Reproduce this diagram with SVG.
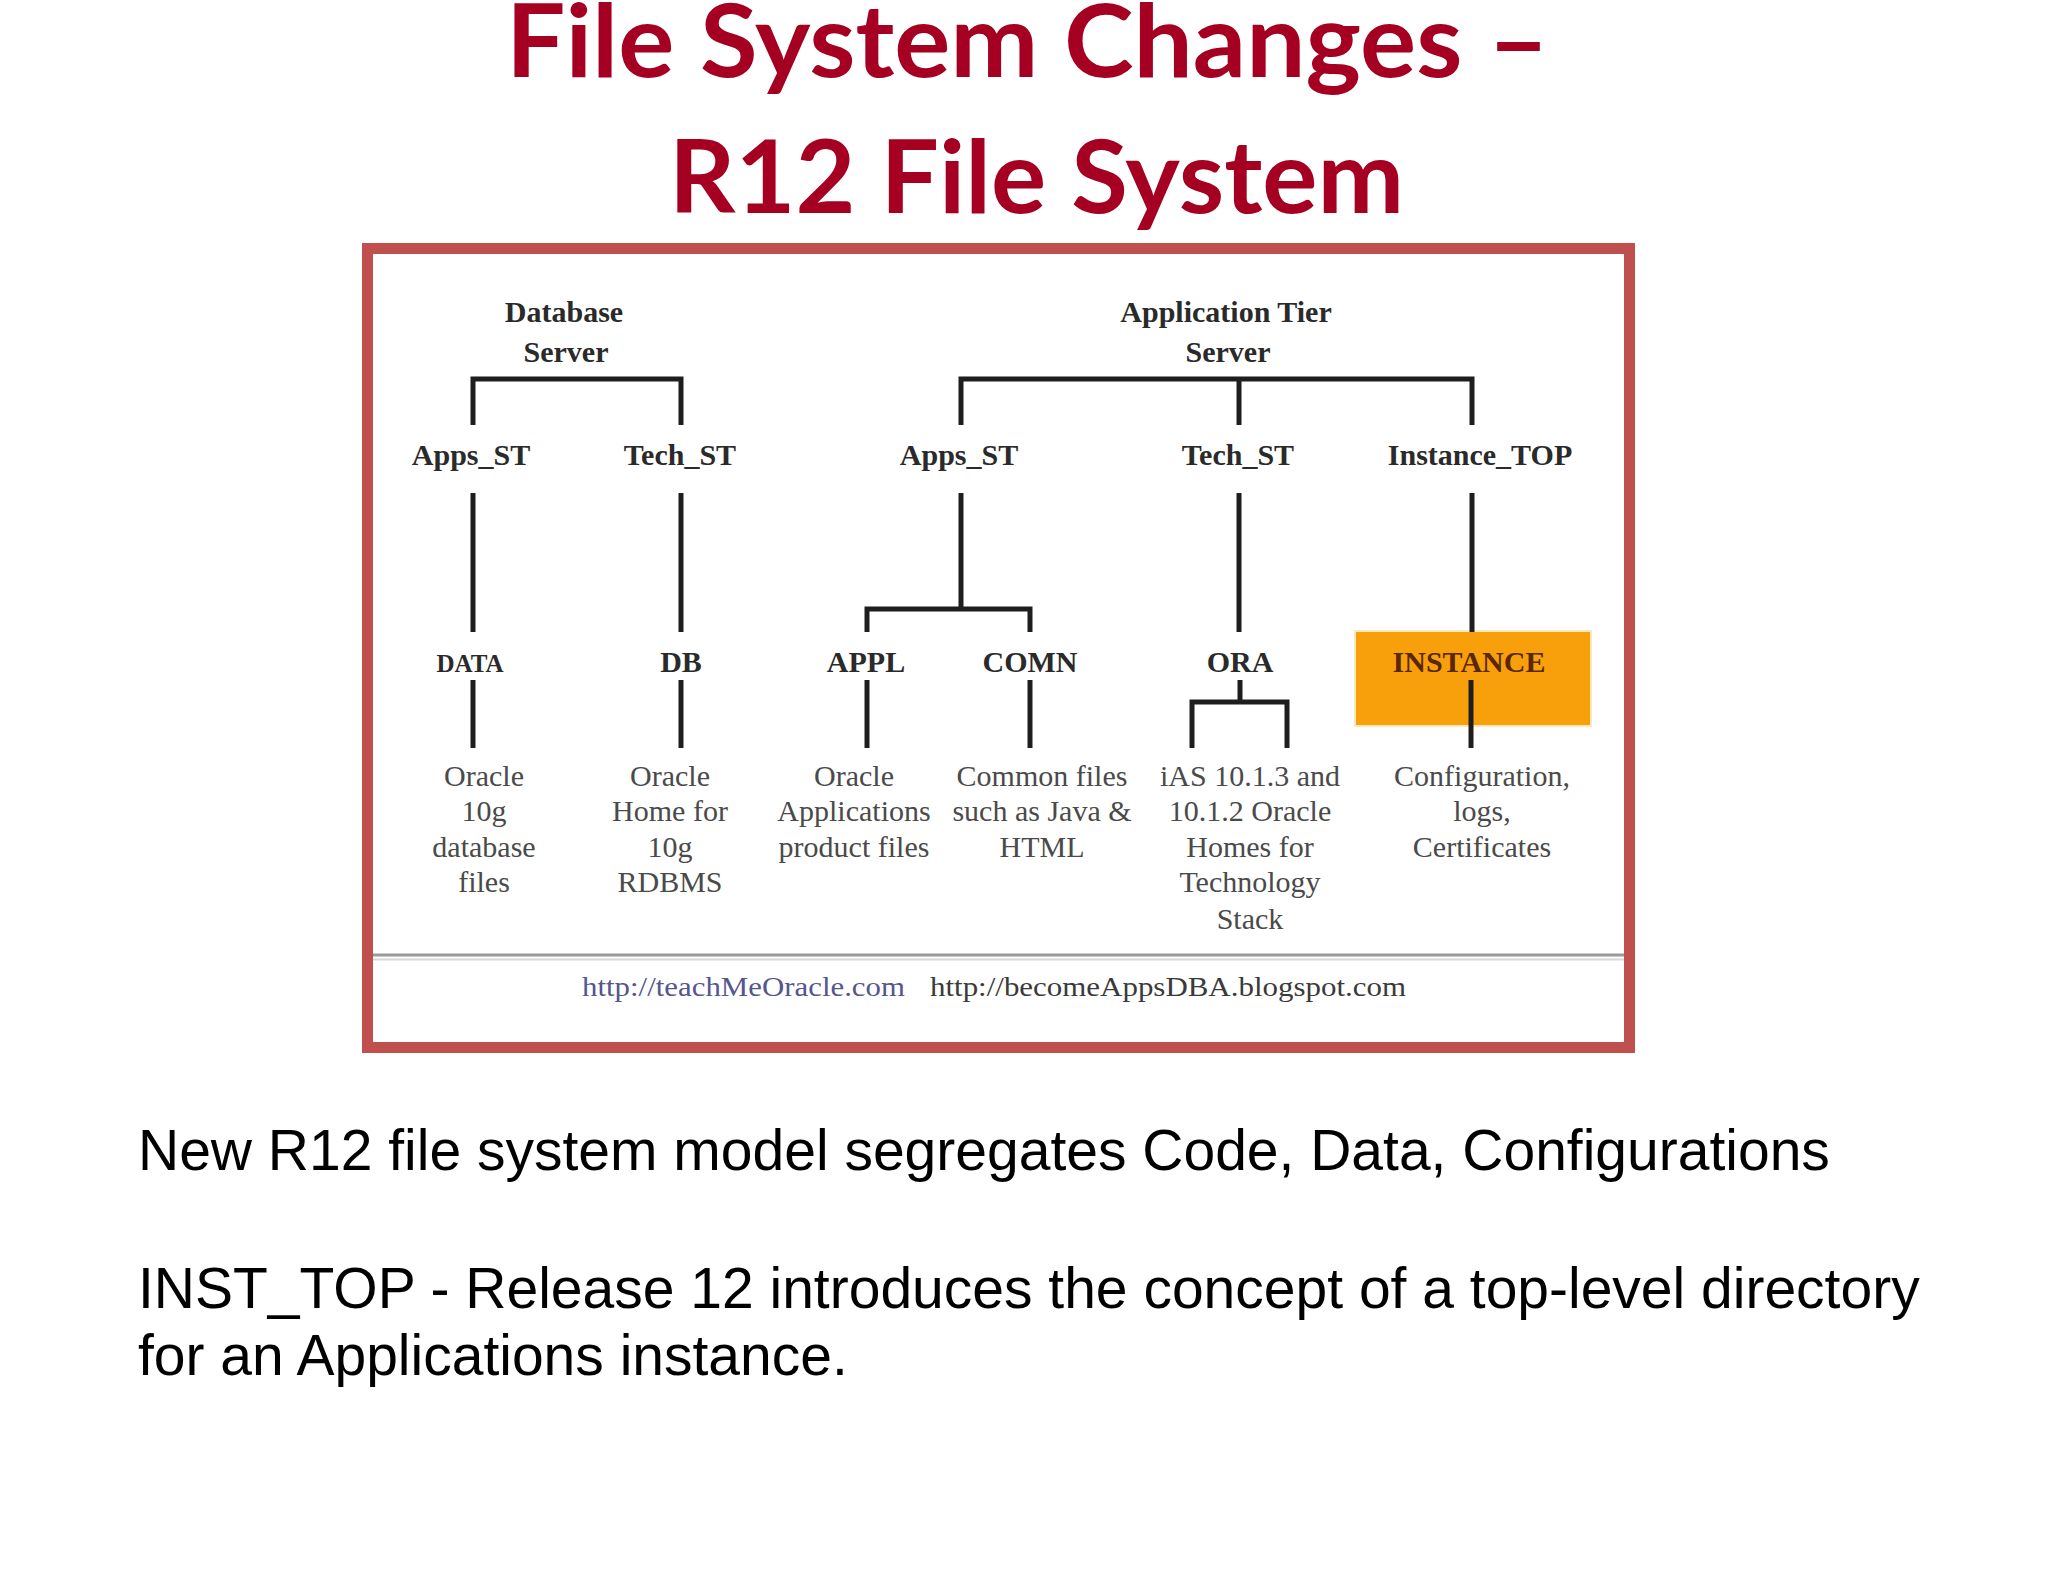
<svg xmlns="http://www.w3.org/2000/svg" width="2048" height="1576" viewBox="0 0 2048 1576">
<style>
.title{font-family:Lato,"Open Sans","Liberation Sans",sans-serif;font-weight:700;font-size:102px;fill:#A50021}
.hdr{font-family:"Liberation Serif","DejaVu Serif",serif;font-weight:700;font-size:30px;fill:#2a2a2a;text-anchor:middle}
.lbl{font-family:"Liberation Serif","DejaVu Serif",serif;font-weight:700;font-size:30px;fill:#2a2a2a;text-anchor:middle}
.desc{font-family:"Liberation Serif","DejaVu Serif",serif;font-size:30px;fill:#4a4a4a;text-anchor:middle}
.foot{font-family:"Liberation Serif","DejaVu Serif",serif;font-size:28px}
.body{font-family:"Liberation Sans",Arial,sans-serif;font-size:57px;fill:#000}
.conn{fill:none;stroke:#1e1e1e;stroke-width:5;stroke-linecap:butt;stroke-linejoin:miter}
</style>
<rect width="2048" height="1576" fill="#ffffff"/>
<g id="title">
<text class="title" x="506" y="77" textLength="1043" lengthAdjust="spacingAndGlyphs">File System Changes –</text>
<text class="title" x="669" y="213" textLength="735" lengthAdjust="spacingAndGlyphs">R12 File System</text>
</g>
<g id="frame">
<rect x="367.5" y="248.5" width="1262" height="799" fill="#ffffff" stroke="#C0504D" stroke-width="11"/>
<line x1="373" y1="955" x2="1624" y2="955" stroke="#9a9a9a" stroke-width="3"/>
<line x1="373" y1="959.5" x2="1624" y2="959.5" stroke="#d8d8d8" stroke-width="2"/>
</g>
<g id="db-server"><text class="hdr" x="564" y="322">Database</text><text class="hdr" x="566" y="362">Server</text></g>
<g id="app-server"><text class="hdr" x="1226" y="322">Application Tier</text><text class="hdr" x="1228" y="362">Server</text></g>
<g id="db-apps-st"><text class="lbl" x="471" y="465">Apps_ST</text></g>
<g id="db-tech-st"><text class="lbl" x="680" y="465">Tech_ST</text></g>
<g id="app-apps-st"><text class="lbl" x="959" y="465">Apps_ST</text></g>
<g id="app-tech-st"><text class="lbl" x="1238" y="465">Tech_ST</text></g>
<g id="instance-top"><text class="lbl" x="1480" y="465">Instance_TOP</text></g>
<g id="data"><text class="lbl" x="470" y="672" style="font-size:25px">DATA</text>
<text class="desc" x="484" y="786">Oracle</text><text class="desc" x="484" y="821">10g</text><text class="desc" x="484" y="857">database</text><text class="desc" x="484" y="892">files</text></g>
<g id="db"><text class="lbl" x="681" y="672">DB</text>
<text class="desc" x="670" y="786">Oracle</text><text class="desc" x="670" y="821">Home for</text><text class="desc" x="670" y="857">10g</text><text class="desc" x="670" y="892">RDBMS</text></g>
<g id="appl"><text class="lbl" x="866" y="672">APPL</text>
<text class="desc" x="854" y="786">Oracle</text><text class="desc" x="854" y="821">Applications</text><text class="desc" x="854" y="857">product files</text></g>
<g id="comn"><text class="lbl" x="1030" y="672">COMN</text>
<text class="desc" x="1042" y="786">Common files</text><text class="desc" x="1042" y="821">such as Java &amp;</text><text class="desc" x="1042" y="857">HTML</text></g>
<g id="ora"><text class="lbl" x="1240" y="672">ORA</text>
<text class="desc" x="1250" y="786">iAS 10.1.3 and</text><text class="desc" x="1250" y="821">10.1.2 Oracle</text><text class="desc" x="1250" y="857">Homes for</text><text class="desc" x="1250" y="892">Technology</text><text class="desc" x="1250" y="929">Stack</text></g>
<g id="instance">
<rect x="1354" y="630" width="238" height="97" fill="#FFD88A" opacity="0.6"/>
<rect x="1356" y="632" width="234" height="93" fill="#F7A00C"/>
<text class="lbl" x="1469" y="672" style="fill:#5a2800">INSTANCE</text>
<text class="desc" x="1482" y="786">Configuration,</text><text class="desc" x="1482" y="821">logs,</text><text class="desc" x="1482" y="857">Certificates</text></g>
<g id="footer">
<text class="foot" x="582" y="996" fill="#55558f" textLength="323" lengthAdjust="spacingAndGlyphs">http://teachMeOracle.com</text>
<text class="foot" x="930" y="996" fill="#3a3a3a" textLength="476" lengthAdjust="spacingAndGlyphs">http://becomeAppsDBA.blogspot.com</text>
</g>
<g id="connectors">
<path class="conn" d="M473,425 V379 H681 V425"/>
<path class="conn" d="M473,493 V632"/>
<path class="conn" d="M681,493 V632"/>
<path class="conn" d="M473,680 V748"/>
<path class="conn" d="M681,680 V748"/>
<path class="conn" d="M961,425 V379 H1472 V425"/>
<path class="conn" d="M1239,379 V425"/>
<path class="conn" d="M961,493 V609"/>
<path class="conn" d="M867,632 V609 H1030 V632"/>
<path class="conn" d="M1239,493 V632"/>
<path class="conn" d="M1472,493 V632"/>
<path class="conn" d="M867,680 V748"/>
<path class="conn" d="M1030,680 V748"/>
<path class="conn" d="M1240,680 V702"/>
<path class="conn" d="M1192,748 V702 H1287 V748"/>
<path class="conn" d="M1471,680 V748"/>
</g>
<g id="notes">
<text class="body" x="138" y="1170">New R12 file system model segregates Code, Data, Configurations</text>
<text class="body" x="138" y="1308">INST_TOP - Release 12 introduces the concept of a top-level directory</text>
<text class="body" x="138" y="1375">for an Applications instance.</text>
</g>
</svg>
